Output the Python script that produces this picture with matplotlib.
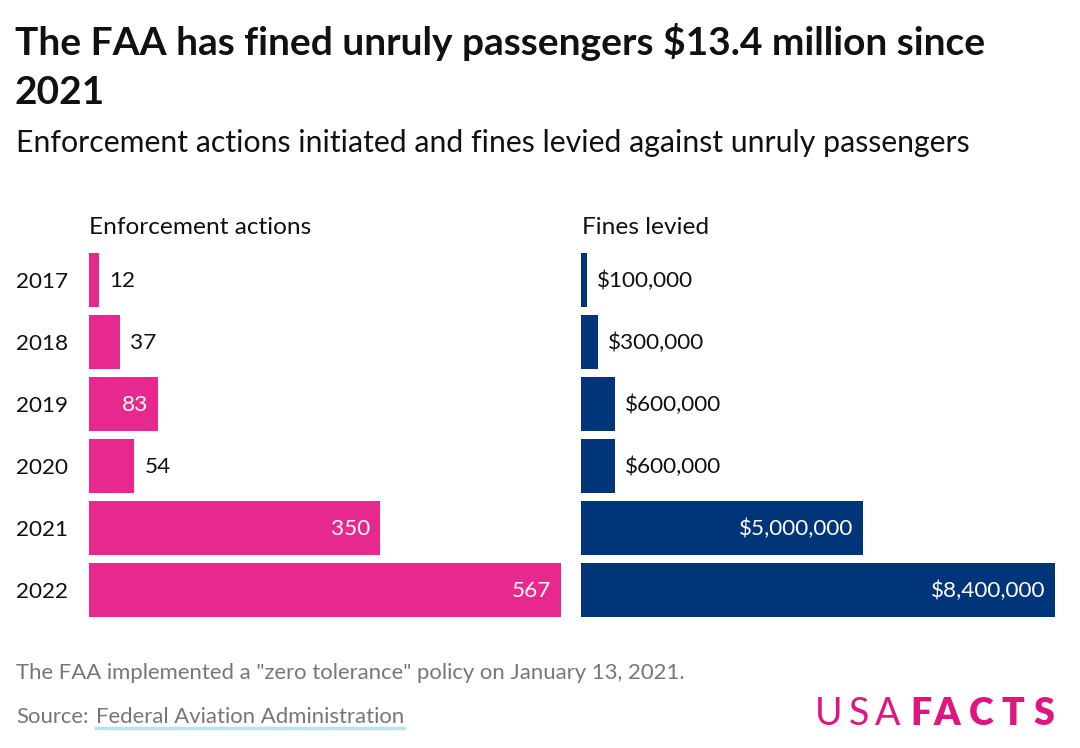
import matplotlib
matplotlib.use("Agg")
import matplotlib.pyplot as plt

years = ["2017", "2018", "2019", "2020", "2021", "2022"]
actions = [12, 37, 83, 54, 350, 567]
fines = [100000, 300000, 600000, 600000, 5000000, 8400000]

PINK = "#E6288F"
NAVY = "#00357A"
GREY = "#777777"
FONT = "Lato"
FS = 16.2

W, H = 1080, 748
fig = plt.figure(figsize=(W / 100, H / 100), dpi=100)
fig.patch.set_facecolor("white")


def fx(x):
    return x / W


def fy(y):
    return 1 - y / H


def money(v):
    return "${:,.0f}".format(v)


def panel(rect, values, color, fmt, show_years):
    ax = fig.add_axes(rect)
    pos = list(range(len(values)))
    ax.barh(pos, values, height=0.87, color=color)
    vmax = max(values)
    ax.set_xlim(0, vmax)
    ax.set_ylim(len(values) - 0.5, -0.5)
    for p, v in zip(pos, values):
        label = fmt(v)
        # label goes inside the bar only when there is room for it
        if v / vmax > 0.12:
            ax.annotate(label, (v, p), xytext=(-7, -1), textcoords="offset points",
                        ha="right", va="center", color="white", fontsize=FS, family=FONT)
        else:
            ax.annotate(label, (v, p), xytext=(7.5, -1), textcoords="offset points",
                        ha="left", va="center", color="#111111", fontsize=FS, family=FONT)
    ax.set_xticks([])
    if show_years:
        ax.set_yticks(pos)
        ax.set_yticklabels(years, family=FONT, fontsize=FS, color="#111111")
        ax.tick_params(axis="y", length=0, pad=15)
    else:
        ax.set_yticks([])
    for s in ax.spines.values():
        s.set_visible(False)
    return ax


top, bottom = 249, 621
ax1 = panel([fx(89), fy(bottom), fx(472), (bottom - top) / H], actions, PINK,
            lambda v: str(v), True)
ax2 = panel([fx(581), fy(bottom), fx(474), (bottom - top) / H], fines, NAVY,
            money, False)

fig.text(fx(89), fy(227), "Enforcement actions", family=FONT, fontsize=17.6,
         va="center", color="#111111")
fig.text(fx(582), fy(227), "Fines levied", family=FONT, fontsize=17.6,
         va="center", color="#111111")

# titles
fig.text(fx(15), fy(42), "The FAA has fined unruly passengers $13.4 million since",
         family=FONT, fontsize=28, fontweight="bold", va="center", color="#111111")
fig.text(fx(15), fy(93), "2021", family=FONT, fontsize=28, fontweight="bold",
         va="center", color="#111111")
fig.text(fx(16), fy(143),
         "Enforcement actions initiated and fines levied against unruly passengers",
         family=FONT, fontsize=21.8, va="center", color="#111111")

# footer
FOOT = 15.9
fig.text(fx(16), fy(673), 'The FAA implemented a "zero tolerance" policy on January 13, 2021.',
         family=FONT, fontsize=FOOT, va="center", color=GREY)
fig.text(fx(16), fy(717), "Source:", family=FONT, fontsize=FOOT, va="center", color=GREY)
src = fig.text(fx(96), fy(717), "Federal Aviation Administration", family=FONT,
               fontsize=FOOT, va="center", color=GREY)
fig.canvas.draw()
bb = src.get_window_extent().transformed(fig.transFigure.inverted())
fig.add_artist(plt.Line2D([bb.x0, bb.x1], [fy(728), fy(728)], color="#BDE0EC",
                          lw=2.5, transform=fig.transFigure))

# logo
for ch, x in zip("USA", [815, 849, 875]):
    fig.text(fx(x), fy(725), ch, family=FONT, fontsize=27, fontweight="normal",
             color="#E0157F", va="baseline")
for ch, x in zip("FACTS", [910, 933, 969, 1002, 1033]):
    fig.text(fx(x), fy(725), ch, family=FONT, fontsize=27, fontweight="heavy",
             color="#E0157F", va="baseline")

fig.savefig("out.png", dpi=100)
